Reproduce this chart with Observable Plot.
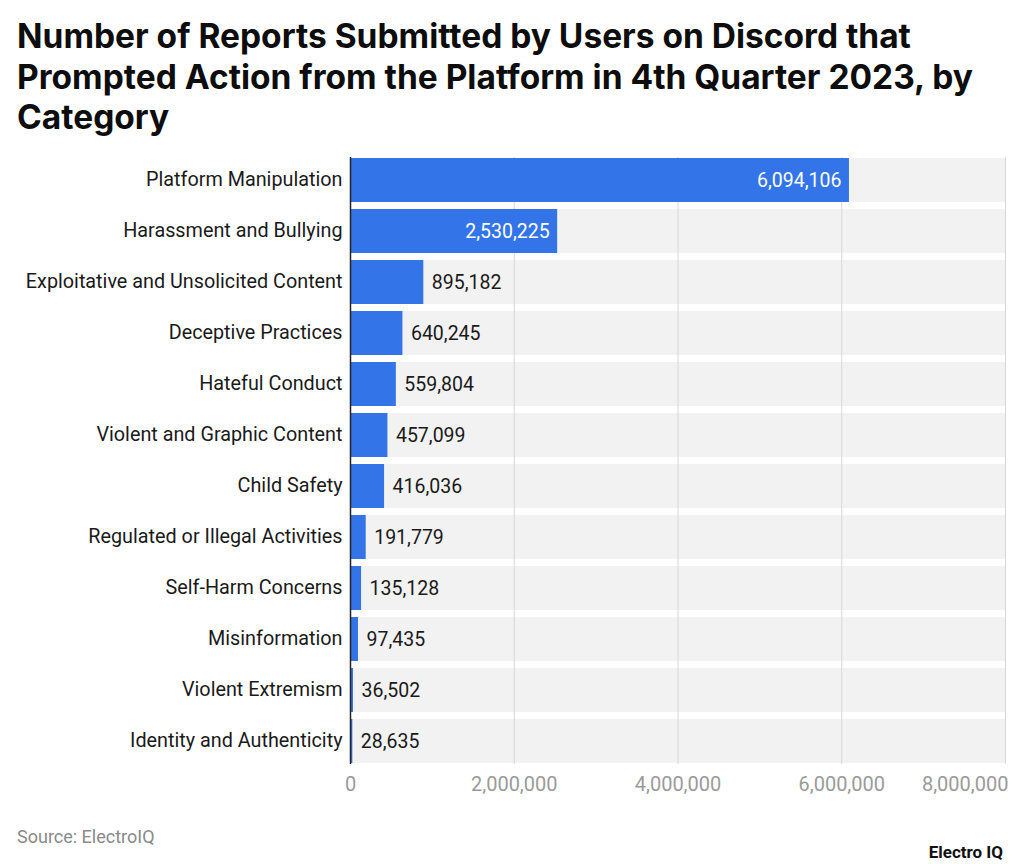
<!DOCTYPE html>
<html>
<head>
<meta charset="utf-8">
<script src="https://cdn.jsdelivr.net/npm/d3@7"></script>
<script src="https://cdn.jsdelivr.net/npm/@observablehq/plot@0.6"></script>
<style>
  html, body { margin: 0; padding: 0; background: #fff; }
  body { width: 1024px; height: 864px; position: relative; font-family: Roboto, "Noto Sans", sans-serif; overflow: hidden; }
  #title { position: absolute; left: 17px; top: 16px; width: 1005px; font-family: Inter, Roboto, sans-serif; font-size: 33.5px; font-weight: 700; line-height: 40.5px; color: #0d0d0d; white-space: nowrap; letter-spacing: 0; }
  #chart { position: absolute; left: 0; top: 140px; }
  #source { position: absolute; left: 17px; top: 826px; font-size: 18px; color: #8a8a8a; }
  #logo { position: absolute; right: 21px; top: 842px; font-size: 17px; font-weight: 700; color: #111; }
</style>
</head>
<body>
<div id="title">Number of Reports Submitted by Users on Discord that<br>Prompted Action from the Platform in 4th Quarter 2023, by<br>Category</div>
<div id="chart"></div>
<div id="source">Source: ElectroIQ</div>
<div id="logo">Electro IQ</div>
<script>
const categories = [
  "Platform Manipulation",
  "Harassment and Bullying",
  "Exploitative and Unsolicited Content",
  "Deceptive Practices",
  "Hateful Conduct",
  "Violent and Graphic Content",
  "Child Safety",
  "Regulated or Illegal Activities",
  "Self-Harm Concerns",
  "Misinformation",
  "Violent Extremism",
  "Identity and Authenticity"
];
const values = [6094106, 2530225, 895182, 640245, 559804, 457099, 416036, 191779, 135128, 97435, 36502, 28635];
const xTicks = [0, 2000000, 4000000, 6000000, 8000000];

const data = categories.map((c, i) => ({category: c, value: values[i]}));
const fmt = d3.format(",");
const xMax = xTicks[xTicks.length - 1];
const inside = d => d.value > 2000000;

const chart = Plot.plot({
  width: 1024,
  height: 680,
  marginLeft: 350,
  marginRight: 19,
  marginTop: 17,
  marginBottom: 56,
  style: {fontFamily: "Roboto, sans-serif", fontSize: "20px", background: "transparent"},
  x: {domain: [0, xMax], axis: null},
  y: {domain: categories, paddingInner: 0.14, paddingOuter: 0, axis: null},
  marks: [
    Plot.barX(categories, {x1: 0, x2: xMax, y: d => d, fill: "#f2f2f2"}),
    Plot.gridX(xTicks.slice(1), {stroke: "#d6d6d6", strokeOpacity: 1, strokeWidth: 1}),
    Plot.barX(data, {x: "value", y: "category", fill: "#3474e9"}),
    Plot.ruleX([0], {stroke: "#222", strokeWidth: 1.5}),
    Plot.text(data.filter(inside), {x: "value", y: "category", text: d => fmt(d.value), dx: -8, textAnchor: "end", fill: "#fff", fontSize: 19.5}),
    Plot.text(data.filter(d => !inside(d)), {x: "value", y: "category", text: d => fmt(d.value), dx: 8, textAnchor: "start", fill: "#1a1a1a", fontSize: 19.5}),
    Plot.axisY({tickSize: 0, tickPadding: 8, fontSize: 19.8, fill: "#1a1a1a", label: null, dy: -1}),
    Plot.axisX({ticks: xTicks.slice(0, -1), tickSize: 0, tickPadding: 12, tickFormat: fmt, fontSize: 20, fill: "#9a9a9a", label: null}),
    Plot.axisX({ticks: xTicks.slice(-1), tickSize: 0, tickPadding: 12, tickFormat: fmt, fontSize: 20, fill: "#9a9a9a", label: null, textAnchor: "end", dx: 3})
  ]
});
document.getElementById("chart").appendChild(chart);
</script>
</body>
</html>
